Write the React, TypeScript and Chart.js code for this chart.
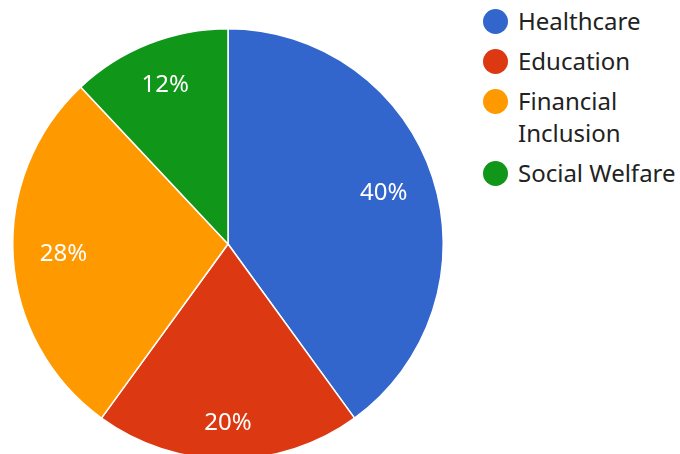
import React, { useEffect, useRef } from "react";
import { Chart, registerables } from "chart.js";

Chart.register(...registerables);

const categories = ["Healthcare", "Education", "Financial Inclusion", "Social Welfare"];
const shares = [40, 20, 28, 12];
const colors = ["#3366cc", "#dc3912", "#ff9900", "#109618"];

const FONT = "'Noto Sans', 'Open Sans', sans-serif";

// Labels are placed along each slice's mid-angle so that the outer corner of the
// text box touches a circle at a fixed fraction of the pie radius.
const labelPlugin = {
  id: "sliceLabels",
  afterDatasetsDraw(chart: any) {
    const ctx = chart.ctx;
    const meta = chart.getDatasetMeta(0);
    const data = chart.data.datasets[0].data as number[];
    const total = data.reduce((a, b) => a + b, 0);
    ctx.save();
    ctx.fillStyle = "#ffffff";
    ctx.font = `24px ${FONT}`;
    ctx.textAlign = "center";
    ctx.textBaseline = "middle";
    meta.data.forEach((arc: any, i: number) => {
      const { x, y, startAngle, endAngle, outerRadius } = arc.getProps(
        ["x", "y", "startAngle", "endAngle", "outerRadius"],
        true
      );
      const mid = (startAngle + endAngle) / 2;
      const pct = Math.round((data[i] / total) * 100);
      const text = `${pct}%`;
      const w = ctx.measureText(text).width - 2;
      const h = 18;
      const ux = Math.cos(mid);
      const uy = Math.sin(mid);
      const cx = (Math.abs(ux) < 1e-6 ? 0 : Math.sign(ux)) * (w / 2);
      const cy = (Math.abs(uy) < 1e-6 ? 0 : Math.sign(uy)) * (h / 2);
      const R = outerRadius * 0.874;
      const b = ux * cx + uy * cy;
      const t = -b + Math.sqrt(b * b - (cx * cx + cy * cy) + R * R);
      ctx.fillText(text, x + ux * t, y + uy * t);
    });
    ctx.restore();
  },
};

export default function App() {
  const canvasRef = useRef<HTMLCanvasElement | null>(null);

  useEffect(() => {
    if (!canvasRef.current) return;
    const chart = new Chart(canvasRef.current, {
      type: "pie",
      data: {
        labels: categories,
        datasets: [
          {
            data: shares,
            backgroundColor: colors,
            borderColor: "#ffffff",
            borderWidth: 1.5,
            hoverOffset: 0,
          },
        ],
      },
      options: {
        animation: false,
        responsive: true,
        maintainAspectRatio: false,
        layout: { padding: 12 },
        plugins: {
          legend: { display: false },
          tooltip: { enabled: false },
        },
      },
      plugins: [labelPlugin],
    });
    return () => chart.destroy();
  }, []);

  return (
    <div
      style={{
        position: "fixed",
        left: 0,
        top: 0,
        width: 680,
        height: 454,
        overflow: "hidden",
        background: "#ffffff",
        fontFamily: FONT,
      }}
    >
      <div style={{ position: "absolute", left: 0, top: 0, width: 456, height: 488 }}>
        <canvas ref={canvasRef} />
      </div>
      <div style={{ position: "absolute", left: 483, top: 5 }}>
        {categories.map((c, i) => (
          <div
            key={c}
            style={{ display: "flex", alignItems: "flex-start", marginBottom: 8 }}
          >
            <div
              style={{
                width: 25,
                height: 25,
                borderRadius: "50%",
                background: colors[i],
                marginTop: 3.5,
                flex: "0 0 auto",
              }}
            />
            <div
              style={{
                marginLeft: 10,
                width: 168,
                fontSize: 24,
                lineHeight: "32px",
                color: "#222222",
              }}
            >
              {c}
            </div>
          </div>
        ))}
      </div>
    </div>
  );
}
